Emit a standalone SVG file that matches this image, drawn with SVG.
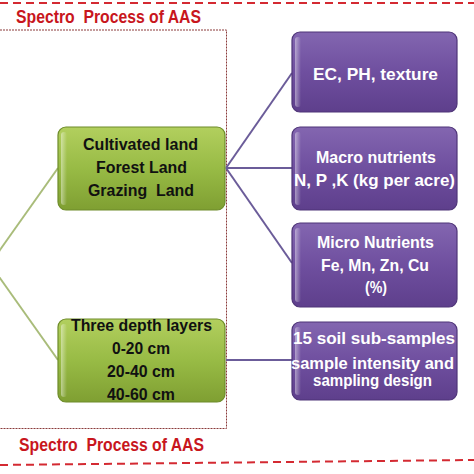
<svg xmlns="http://www.w3.org/2000/svg" width="474" height="474" viewBox="0 0 474 474">
<defs>
<linearGradient id="gGreen" x1="0" y1="0" x2="0" y2="1">
<stop offset="0" stop-color="#b2cf5e"/>
<stop offset="0.5" stop-color="#98bb45"/>
<stop offset="1" stop-color="#7f9f32"/>
</linearGradient>
<linearGradient id="gPurple" x1="0" y1="0" x2="0" y2="1">
<stop offset="0" stop-color="#8366b0"/>
<stop offset="0.5" stop-color="#6f4f9f"/>
<stop offset="1" stop-color="#5e3f8c"/>
</linearGradient>
<linearGradient id="gShine" x1="0" y1="0" x2="1" y2="0">
<stop offset="0" stop-color="#ffffff" stop-opacity="0.45"/>
<stop offset="1" stop-color="#ffffff" stop-opacity="0"/>
</linearGradient>
</defs>
<style>
.title{font-family:"Liberation Sans",Arial,sans-serif;font-weight:bold;font-size:18px;fill:#c8161d;white-space:pre}
.gbox{fill:url(#gGreen);stroke:#6e8c2a;stroke-width:1.2}
.pbox{fill:url(#gPurple);stroke:#4f3578;stroke-width:1.2}
.gt{font-family:"Liberation Sans",Arial,sans-serif;font-weight:bold;font-size:16.5px;fill:#111;white-space:pre}
.pt{font-family:"Liberation Sans",Arial,sans-serif;font-weight:bold;font-size:16.5px;fill:#fff}
.shine{fill:url(#gShine)}
.gl{stroke:#a9bc7a;stroke-width:2;fill:none}
.pl{stroke:#6b5c99;stroke-width:2;fill:none}
</style>
<rect width="474" height="474" fill="#fff"/>
<line x1="0" y1="3" x2="474" y2="3" stroke="#d42a32" stroke-width="2" stroke-dasharray="8,5"/>
<line x1="0" y1="465" x2="474" y2="460" stroke="#d42a32" stroke-width="2" stroke-dasharray="8,5"/>
<text class="title" x="16" y="23" textLength="185" lengthAdjust="spacingAndGlyphs">Spectro  Process of AAS</text>
<text class="title" x="19" y="451" textLength="185" lengthAdjust="spacingAndGlyphs">Spectro  Process of AAS</text>
<polyline points="0,30 226.5,30 226.5,428.5 0,428.5" fill="none" stroke="#8a3a3a" stroke-width="1" stroke-dasharray="2,1"/>
<g id="connectors">
<line class="gl" x1="-10" y1="264" x2="58" y2="168"/>
<line class="gl" x1="-10" y1="264" x2="58" y2="360"/>
<line class="pl" x1="226" y1="168" x2="292" y2="73"/>
<line class="pl" x1="226" y1="168" x2="292" y2="168"/>
<line class="pl" x1="226" y1="168" x2="292" y2="263"/>
<line class="pl" x1="226" y1="360" x2="292" y2="360"/>
</g>
<g id="land">
<rect class="gbox" x="58" y="127" width="167" height="83" rx="8"/>
<rect class="shine" x="61" y="132" width="6" height="73" rx="3"/>
<text class="gt" x="83" y="150" textLength="115" lengthAdjust="spacingAndGlyphs">Cultivated land</text>
<text class="gt" x="96" y="173" textLength="91" lengthAdjust="spacingAndGlyphs">Forest Land</text>
<text class="gt" x="88" y="196" textLength="106" lengthAdjust="spacingAndGlyphs">Grazing  Land</text>
</g>
<g id="depth">
<rect class="gbox" x="58" y="319" width="167" height="83" rx="8"/>
<rect class="shine" x="61" y="324" width="6" height="73" rx="3"/>
<text class="gt" x="71" y="331" textLength="141" lengthAdjust="spacingAndGlyphs">Three depth layers</text>
<text class="gt" x="112" y="354" textLength="58" lengthAdjust="spacingAndGlyphs">0-20 cm</text>
<text class="gt" x="107" y="377" textLength="68" lengthAdjust="spacingAndGlyphs">20-40 cm</text>
<text class="gt" x="107" y="400" textLength="68" lengthAdjust="spacingAndGlyphs">40-60 cm</text>
</g>
<g id="ec">
<rect class="pbox" x="292" y="32" width="165" height="80" rx="8"/>
<rect class="shine" x="295" y="37" width="6" height="70" rx="3"/>
<text class="pt" x="313" y="80" textLength="125" lengthAdjust="spacingAndGlyphs">EC, PH, texture</text>
</g>
<g id="macro">
<rect class="pbox" x="292" y="127" width="165" height="83" rx="8"/>
<rect class="shine" x="295" y="132" width="6" height="73" rx="3"/>
<text class="pt" x="316" y="163" textLength="120" lengthAdjust="spacingAndGlyphs">Macro nutrients</text>
<text class="pt" x="294" y="186" textLength="161" lengthAdjust="spacingAndGlyphs">N, P ,K (kg per acre)</text>
</g>
<g id="micro">
<rect class="pbox" x="292" y="223" width="165" height="84" rx="8"/>
<rect class="shine" x="295" y="228" width="6" height="74" rx="3"/>
<text class="pt" x="317" y="248" textLength="117" lengthAdjust="spacingAndGlyphs">Micro Nutrients</text>
<text class="pt" x="321" y="271" textLength="108" lengthAdjust="spacingAndGlyphs">Fe, Mn, Zn, Cu</text>
<text class="pt" x="365" y="293" textLength="22" lengthAdjust="spacingAndGlyphs">(%)</text>
</g>
<g id="samples">
<rect class="pbox" x="292" y="322" width="165" height="78" rx="8"/>
<rect class="shine" x="295" y="327" width="6" height="68" rx="3"/>
<text class="pt" x="293" y="344" textLength="162" lengthAdjust="spacingAndGlyphs">15 soil sub-samples</text>
<text class="pt" x="291" y="369" textLength="163" lengthAdjust="spacingAndGlyphs">sample intensity and</text>
<text class="pt" x="313" y="386" textLength="119" lengthAdjust="spacingAndGlyphs">sampling design</text>
</g>
</svg>
